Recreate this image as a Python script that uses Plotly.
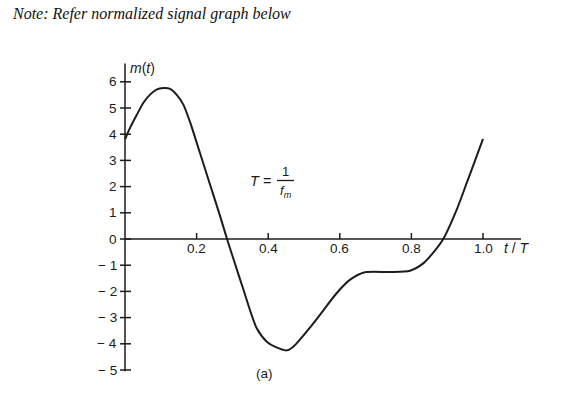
import plotly.graph_objects as go

# ---- data ----
t_norm = [0, 0.014, 0.033, 0.051, 0.07, 0.088, 0.107, 0.126, 0.144, 0.163, 0.182, 0.209,
          0.237, 0.265, 0.285, 0.305, 0.33, 0.368, 0.396, 0.42, 0.452, 0.47, 0.526, 0.591,
          0.628, 0.67, 0.74, 0.796, 0.833, 0.861, 0.889, 0.926, 0.954, 0.978, 1.0]
m_vals = [3.8, 4.24, 4.74, 5.19, 5.51, 5.7, 5.76, 5.73, 5.51, 5.13, 4.45, 3.3,
          2.1, 0.9, 0.0, -0.85, -1.9, -3.41, -3.92, -4.12, -4.25, -4.11, -3.22, -2.07,
          -1.56, -1.27, -1.26, -1.21, -0.93, -0.52, 0.0, 1.1, 2.12, 3.0, 3.82]

x_ticks = [0.2, 0.4, 0.6, 0.8, 1.0]
x_tick_labels = ["0.2", "0.4", "0.6", "0.8", "1.0"]
y_ticks = [6, 5, 4, 3, 2, 1, 0, -1, -2, -3, -4, -5]
y_tick_labels = ["6", "5", "4", "3", "2", "1", "0", "\u2212 1", "\u2212 2", "\u2212 3", "\u2212 4", "\u2212 5"]

W, H = 575, 395
# pixel mapping of the reference axes
X0PX, XSCALE = 125.0, 358.0   # px of t=0, px per unit t
Y0PX, YSCALE = 239.0, 26.2    # px of m=0, px per unit m

x_range = [-X0PX / XSCALE, (W - X0PX) / XSCALE]
y_range = [(Y0PX - H) / YSCALE, Y0PX / YSCALE]

def dx(px):  # pixel offset -> data units in x
    return px / XSCALE

def dy(px):
    return px / YSCALE

INK = "#1c1c1c"
fig = go.Figure()

fig.add_trace(go.Scatter(x=t_norm, y=m_vals, mode="lines",
                         line=dict(color=INK, width=2, shape="spline", smoothing=0.7),
                         hoverinfo="skip", showlegend=False))

shapes = []
# x axis
shapes.append(dict(type="line", xref="x", yref="y", x0=0, x1=x_range[0] + dx(521), y0=0, y1=0,
                   line=dict(color=INK, width=1.5)))
# y axis
shapes.append(dict(type="line", xref="x", yref="y", x0=0, x1=0, y0=-5.05, y1=6.7,
                   line=dict(color=INK, width=1.5)))
for xt in x_ticks:
    shapes.append(dict(type="line", xref="x", yref="y", x0=xt, x1=xt, y0=0, y1=dy(6),
                       line=dict(color=INK, width=1.5)))
for yt in y_ticks:
    shapes.append(dict(type="line", xref="x", yref="y", x0=-dx(5), x1=dx(6), y0=yt, y1=yt,
                       line=dict(color=INK, width=1.5)))

def px2x(px):
    return px / W
def py2y(py):
    return 1 - py / H

# fraction bar for T = 1/f_m
shapes.append(dict(type="line", xref="paper", yref="paper", x0=px2x(277), x1=px2x(294),
                   y0=py2y(180.5), y1=py2y(180.5), line=dict(color=INK, width=1.3)))

annotations = []
SANS = "Liberation Sans, Arial, sans-serif"
for xt, lab in zip(x_ticks, x_tick_labels):
    annotations.append(dict(x=xt, y=-dy(9), xref="x", yref="y", text=lab, showarrow=False,
                            xanchor="center", yanchor="middle",
                            font=dict(family=SANS, size=13.5, color=INK)))
for yt, lab in zip(y_ticks, y_tick_labels):
    annotations.append(dict(x=-dx(6), y=yt, xref="x", yref="y", text=lab, showarrow=False,
                            xanchor="right", yanchor="middle",
                            font=dict(family=SANS, size=13.5, color=INK)))

annotations += [
    dict(x=px2x(502), y=py2y(248), xref="paper", yref="paper", text="<i>t</i> / <i>T</i>",
         showarrow=False, xanchor="left", yanchor="middle",
         font=dict(family=SANS, size=14, color=INK)),
    dict(x=px2x(128), y=py2y(68), xref="paper", yref="paper", text="<i>m</i>(<i>t</i>)",
         showarrow=False, xanchor="left", yanchor="middle",
         font=dict(family=SANS, size=14, color=INK)),
    dict(x=px2x(248), y=py2y(181), xref="paper", yref="paper", text="<i>T</i> =",
         showarrow=False, xanchor="left", yanchor="middle",
         font=dict(family=SANS, size=14.5, color=INK)),
    dict(x=px2x(285.5), y=py2y(171), xref="paper", yref="paper", text="1",
         showarrow=False, xanchor="center", yanchor="middle",
         font=dict(family=SANS, size=13, color=INK)),
    dict(x=px2x(285.5), y=py2y(191), xref="paper", yref="paper", text="<i>f</i><sub><i>m</i></sub>",
         showarrow=False, xanchor="center", yanchor="middle",
         font=dict(family=SANS, size=13, color=INK)),
    dict(x=px2x(264), y=py2y(373), xref="paper", yref="paper", text="(a)",
         showarrow=False, xanchor="center", yanchor="middle",
         font=dict(family=SANS, size=13.5, color=INK)),
    dict(x=px2x(10), y=py2y(14), xref="paper", yref="paper",
         text="<i>Note: Refer normalized signal graph below</i>",
         showarrow=False, xanchor="left", yanchor="middle",
         font=dict(family="Liberation Serif, Times New Roman, serif", size=16, color="#111111")),
]

fig.update_layout(
    width=W, height=H,
    margin=dict(l=0, r=0, t=0, b=0),
    paper_bgcolor="white", plot_bgcolor="white",
    xaxis=dict(range=x_range, visible=False, fixedrange=True),
    yaxis=dict(range=y_range, visible=False, fixedrange=True),
    shapes=shapes, annotations=annotations,
)

fig.write_html("out.html", config={"displayModeBar": False},
               post_script="document.body.style.margin='0';document.body.style.padding='0';")
